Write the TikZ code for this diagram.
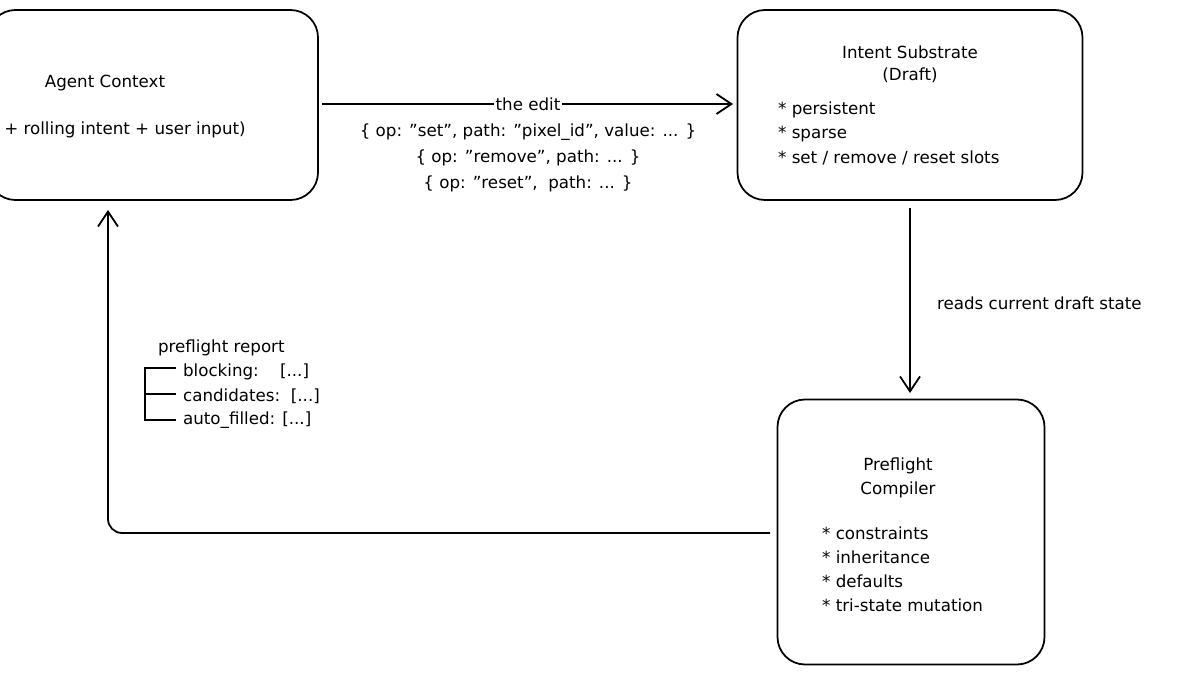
\documentclass[tikz,border=0pt]{standalone}
\usepackage{fontspec}
\setmainfont{DejaVu Sans}
\usetikzlibrary{arrows.meta}
\begin{document}
\begin{tikzpicture}[x=0.02cm,y=-0.02cm,
  box/.style={draw,line width=1pt,rounded corners=0.55cm,inner sep=0},
  t/.style={font=\fontsize{9.5}{11}\selectfont,inner sep=1pt},
  conn/.style={line width=1pt,-{Straight Barb[length=3mm,width=4mm]}}]
\useasboundingbox (0,0) rectangle (1200,675);
\begin{scope}
\clip (0,0) rectangle (1200,675);
\node[box,minimum width=330*0.02cm,minimum height=190*0.02cm] (ac) at (153,105) {};
\end{scope}
\node[t] (act) at (105,83) {Agent Context};
\node[t] (aci) at (125,130) {+ rolling intent + user input)};
\node[box,minimum width=345*0.02cm,minimum height=190*0.02cm] (is) at (910,105) {};
\node[t] (ist) at (910,52) {Intent Substrate};
\node[t] (isd) at (910,75) {(Draft)};
\node[t,anchor=west] (i1) at (776,110) {* persistent};
\node[t,anchor=west] (i2) at (776,134) {* sparse};
\node[t,anchor=west] (i3) at (776,158) {* set / remove / reset slots};
\node[box,minimum width=267*0.02cm,minimum height=265*0.02cm] (pc) at (911,532) {};
\node[t] (pct) at (898,466) {Preflight};
\node[t] (pcc) at (898,490) {Compiler};
\node[t,anchor=west] (p1) at (820,533) {* constraints};
\node[t,anchor=west] (p2) at (820,557) {* inheritance};
\node[t,anchor=west] (p3) at (820,581) {* defaults};
\node[t,anchor=west] (p4) at (820,605) {* tri-state mutation};
\coordinate (e1) at (322,104);
\coordinate (e2) at (733,104);
\draw[conn] (e1) -- (e2);
\node[t,fill=white] (ed) at (528,104) {the edit};
\node[t] (o1) at (528,132) {\{ op: "set", path: "pixel\_id", value: ... \}};
\node[t] (o2) at (528,158) {\{ op: "remove", path: ... \}};
\node[t] (o3) at (528,184) {\{ op: "reset",~ path: ... \}};
\coordinate (d1) at (910,208);
\coordinate (d2) at (910,393);
\draw[conn] (d1) -- (d2);
\node[t,anchor=west] (rd) at (935,303) {reads current draft state};
\coordinate (f1) at (770,533);
\coordinate (f2) at (108,533);
\coordinate (f3) at (108,210);
\draw[conn,rounded corners=8pt] (f1) -- (f2) -- (f3);
\node[t,anchor=west] (pr) at (156,348) {preflight report};
\draw[line width=0.6pt] (145,378) -- (145,368) -- (176,368)
  (145,368) -- (145,420) -- (176,420) (145,394) -- (176,394);
\node[t,anchor=west] (r1) at (181,372) {blocking:~~~~[...]};
\node[t,anchor=west] (r2) at (181,396) {candidates:~~[...]};
\node[t,anchor=west] (r3) at (181,420) {auto\_filled: [...]};
\end{tikzpicture}
\end{document}
